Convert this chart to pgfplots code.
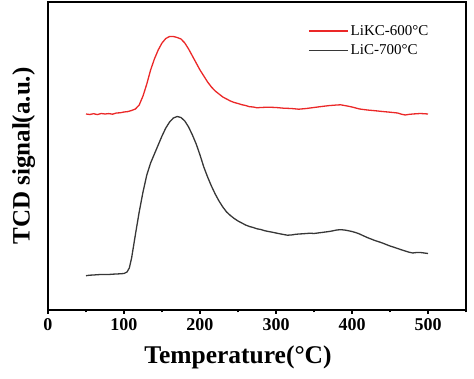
\documentclass[border=0pt]{standalone}
\usepackage{pgfplots}
\pgfplotsset{compat=1.18}
\usepackage{fontspec}
\setmainfont{Liberation Serif}
\definecolor{redc}{RGB}{235,40,40}
\definecolor{blkc}{RGB}{55,55,55}
\begin{document}
\begin{tikzpicture}
\useasboundingbox (-48pt,-69pt) rectangle (426pt,310pt);
\begin{axis}[
  scale only axis, width=418pt, height=308pt,
  xmin=0, xmax=550, ymin=0, ymax=308,
  axis line style={line width=1.4pt},
  xtick={0,100,...,500}, minor xtick={50,150,...,550},
  xtick pos=lower, tick align=outside,
  major tick length=4pt, minor tick length=2.5pt,
  every tick/.style={line width=1.2pt, black},
  ytick=\empty,
  /pgf/number format/assume math mode=true,
  ticklabel style={font=\bfseries\fontsize{18}{18}\selectfont},
  xticklabel style={yshift=-1pt},
  xlabel={Temperature(°C)},
  xlabel style={at={(axis cs:250,0)}, anchor=north, yshift=-32pt, font=\bfseries\fontsize{25.5}{25.5}\selectfont},
  ylabel={TCD signal(a.u.)},
  ylabel style={at={(axis cs:-32,154)}, anchor=center, font=\bfseries\fontsize{25}{25}\selectfont},
  legend style={draw=none, fill=none, at={(axis cs:342,287)}, anchor=north west,
    inner xsep=0pt, inner ysep=0pt, row sep=4pt, font=\fontsize{15}{15}\selectfont},
  legend cell align=left,
  legend image post style={xscale=2.3},
]
\addplot[redc, line width=1.3pt] coordinates {
(50,196) (55,195.5) (60,196.3) (65,195.4) (70,196.5) (75,196) (80,196.4) (85,195.8) (90,197) (95,197.2) (100,198) (105,198.4) (110,199.5) (115,201) (120,205) (125,214) (130,226) (135,240) (140,251) (145,260) (150,267) (155,271.5) (160,273.5) (165,273.5) (170,272.5) (175,271) (180,267) (185,261) (190,254) (195,247) (200,240) (205,234) (210,228) (215,223) (220,219) (225,216) (230,213) (235,211) (240,209) (245,207.5) (250,206.5) (255,205.3) (260,204.5) (265,203.3) (270,203) (275,202.2) (280,202.5) (290,202.8) (300,202.5) (310,201.8) (320,201.5) (330,200.8) (340,201.5) (350,202.5) (360,203.5) (370,204.4) (380,205) (385,205.2) (390,204.5) (395,203.8) (400,203) (405,202) (410,201) (420,200) (430,199.3) (440,198.5) (450,197.8) (460,197) (465,195.8) (470,195) (475,195.6) (480,196) (490,196.5) (500,196)
};
\addlegendentry{LiKC-600°C}
\addplot[blkc, line width=1.3pt] coordinates {
(50,34.3) (55,34.8) (60,35) (65,35.3) (70,35.5) (75,35.4) (80,35.5) (85,35.8) (90,36) (95,36.2) (100,36.5) (104,38) (107,42) (110,52) (113,66) (116,80) (120,98) (125,118) (130,135) (135,147) (140,156) (145,165) (150,174) (155,182) (160,188) (165,192) (170,193.5) (175,192.5) (180,189) (185,183) (190,175) (195,166) (200,155) (205,143) (210,133) (215,124) (220,116) (225,109) (230,103) (235,98) (240,94.5) (245,91.5) (250,89) (255,87) (260,85) (265,83.5) (270,82.5) (275,81.2) (280,80.5) (285,79.3) (290,78.5) (295,77.8) (300,77) (305,76.2) (310,75.5) (315,74.8) (320,75) (325,75.6) (330,76) (335,76.2) (340,76.5) (345,76.8) (350,76.5) (355,77) (360,77.5) (365,78) (370,78.5) (375,79.2) (380,80) (385,80.3) (390,80) (395,79.3) (400,78.5) (405,77.4) (410,76) (415,74.2) (420,72.5) (425,71) (430,69.5) (435,68.3) (440,67) (445,65.5) (450,64) (455,62.8) (460,61.5) (465,60.2) (470,59) (475,57.8) (480,57) (485,57.5) (490,57.5) (495,57) (500,56.5)
};
\addlegendentry{LiC-700°C}
\end{axis}
\end{tikzpicture}
\end{document}
